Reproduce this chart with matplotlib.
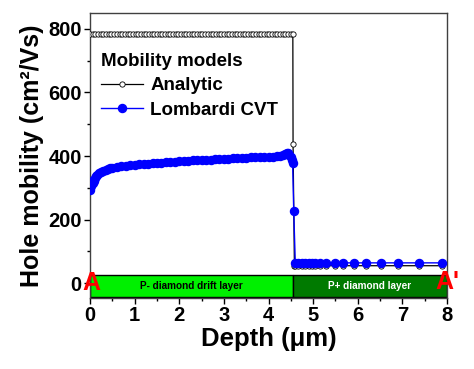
import numpy as np
import matplotlib
matplotlib.use("Agg")
import matplotlib.pyplot as plt

plt.rcParams['font.family'] = ['Liberation Sans', 'DejaVu Sans']
plt.rcParams['font.weight'] = 'bold'

# Analytic model: flat in the P- layer, then a sharp drop
ana_x_drift = [0.00, 0.06, 0.12, 0.18, 0.24, 0.30, 0.36, 0.42, 0.48, 0.54, 0.60, 0.66,
               0.72, 0.78, 0.84, 0.90, 0.96, 1.02, 1.08, 1.14, 1.20, 1.26, 1.32, 1.38,
               1.44, 1.50, 1.56, 1.62, 1.68, 1.74, 1.80, 1.86, 1.92, 1.98, 2.04, 2.10,
               2.16, 2.22, 2.28, 2.34, 2.40, 2.46, 2.52, 2.58, 2.64, 2.70, 2.76, 2.82,
               2.88, 2.94, 3.00, 3.06, 3.12, 3.18, 3.24, 3.30, 3.36, 3.42, 3.48, 3.54,
               3.60, 3.66, 3.72, 3.78, 3.84, 3.90, 3.96, 4.02, 4.08, 4.14, 4.20, 4.26,
               4.32, 4.38, 4.44, 4.50, 4.545]
ana_y_drift = [785] * len(ana_x_drift)
ana_x_step = [4.55, 4.58]
ana_y_step = [438, 55]
tail_x = [4.60, 4.67, 4.75, 4.82, 4.90, 4.97, 5.04, 5.16, 5.29, 5.48, 5.68, 5.92,
          6.19, 6.53, 6.91, 7.38, 7.89]
ana_y_tail = [55] * len(tail_x)

# Lombardi CVT model
lom_x_drift = [0.00, 0.02, 0.04, 0.06, 0.08, 0.10, 0.13, 0.16, 0.20, 0.25, 0.30, 0.35,
               0.40, 0.45, 0.50, 0.60, 0.70, 0.80, 0.90, 1.00, 1.10, 1.20, 1.30, 1.40,
               1.50, 1.60, 1.70, 1.80, 1.90, 2.00, 2.10, 2.20, 2.30, 2.40, 2.50, 2.60,
               2.70, 2.80, 2.90, 3.00, 3.10, 3.20, 3.30, 3.40, 3.50, 3.60, 3.70, 3.80,
               3.90, 4.00, 4.10, 4.20, 4.26, 4.32, 4.37, 4.41, 4.44, 4.47, 4.50, 4.52,
               4.54]
lom_y_drift = [293, 305, 322, 316, 322, 330, 336, 341, 346, 350, 354, 357,
               359, 361, 363, 366, 368, 370, 371, 372, 374, 375, 376, 377,
               378, 379, 380, 381, 382, 383, 384, 385, 386, 387, 388, 388,
               389, 390, 391, 392, 392, 393, 394, 394, 395, 396, 396, 397,
               397, 397, 398, 399, 401, 403, 406, 409, 408, 403, 396, 388,
               378]
lom_x_step = [4.565]
lom_y_step = [228]
lom_y_tail = [64] * len(tail_x)

layer_names = ["P- diamond drift layer", "P+ diamond layer"]
layer_start = [0.0, 4.55]
layer_end = [4.55, 8.0]
layer_colors = ["#00f000", "#007a00"]
layer_text = ["black", "white"]

fig = plt.figure(figsize=(4.74, 3.69), dpi=100)
ax = fig.add_axes([0.19, 0.192, 0.753, 0.773])

# layer bar along the bottom
for name, s, e, c, tc in zip(layer_names, layer_start, layer_end, layer_colors, layer_text):
    ax.barh(-9.5, e - s, left=s, height=69, color=c, edgecolor='black', linewidth=1, zorder=1)
    ax.text((s + e) / 2, -9.5, name, ha='center', va='center', fontsize=7.2,
            color=tc, fontweight='bold', zorder=2)

ana_x = ana_x_drift + ana_x_step + tail_x
ana_y = ana_y_drift + ana_y_step + ana_y_tail
lom_x = lom_x_drift + lom_x_step + tail_x
lom_y = lom_y_drift + lom_y_step + lom_y_tail

ax.plot(ana_x, ana_y, '-o', color='black', lw=0.9, ms=3.8, mfc='white', mec='black',
        mew=0.6, label='Analytic', zorder=3)
ax.plot(lom_x, lom_y, '-o', color='blue', lw=1.0, ms=5.8, mfc='blue', mec='blue',
        label='Lombardi CVT', zorder=4)

ax.set_xlim(0, 8)
ax.set_ylim(-47, 850)
ax.set_xticks(range(0, 9))
ax.set_xticks(np.arange(0.5, 8, 1), minor=True)
ax.set_yticks([0, 200, 400, 600, 800])
ax.set_yticks([100, 300, 500, 700], minor=True)
ax.tick_params(which='major', direction='out', length=4, width=1, labelsize=14.5, pad=2)
ax.tick_params(which='minor', direction='out', length=2.5, width=1)
for lab in ax.get_xticklabels() + ax.get_yticklabels():
    lab.set_fontweight('bold')
for sp in ax.spines.values():
    sp.set_color('#404040')
    sp.set_linewidth(1.0)

ax.set_xlabel("Depth (\u03bcm)", fontsize=18.5, fontweight='bold', labelpad=1)
ax.set_ylabel("Hole mobility (cm\u00b2/Vs)", fontsize=18, fontweight='bold', labelpad=3)

ax.text(0.04, 0, "A", color='red', fontsize=18, fontweight='bold', ha='center',
        va='center', zorder=6, clip_on=False)
ax.text(8.0, 5, "A'", color='red', fontsize=18, fontweight='bold', ha='center',
        va='center', zorder=6, clip_on=False)

leg = ax.legend(title='Mobility models', loc='upper left', bbox_to_anchor=(0.0, 0.9),
                frameon=False, fontsize=13.5, title_fontsize=13.5, handlelength=2.2,
                handletextpad=0.4, labelspacing=0.4, borderaxespad=0.2)
leg.get_title().set_fontweight('bold')
leg._legend_box.align = 'left'
for t in leg.get_texts():
    t.set_fontweight('bold')

fig.savefig("out.png", dpi=100)
